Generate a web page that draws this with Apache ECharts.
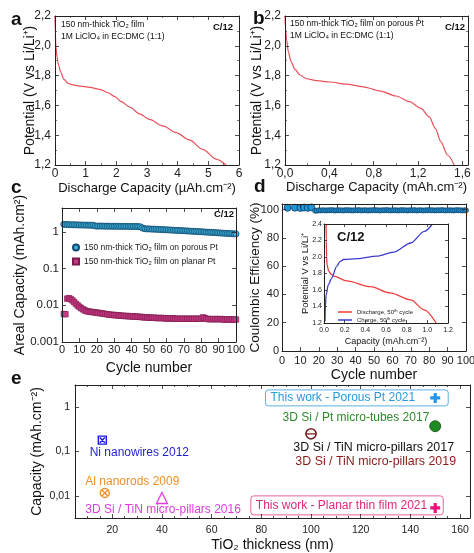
<!DOCTYPE html>
<html><head><meta charset="utf-8">
<script src="https://cdn.jsdelivr.net/npm/echarts@6/dist/echarts.min.js"></script>
<style>html,body{margin:0;padding:0;background:#fff}#c{width:474px;height:553px}</style>
</head><body><div id="c"></div>
<script>
const FONT = '"Liberation Sans", Arial, Helvetica, sans-serif';

// ---- Panel a: discharge curve, 150 nm TiO2 film (planar)
const aCapacity = [0,0.01,0.03,0.065,0.11,0.18,0.29,0.43,0.54,0.81,1.14,1.46,1.73,1.95,2.16,2.44,2.76,3.08,3.52,3.95,4.38,4.82,5.25,5.58];
const aPotential = [2.2,2.084,1.994,1.927,1.878,1.826,1.775,1.748,1.739,1.730,1.721,1.708,1.685,1.659,1.625,1.588,1.543,1.506,1.462,1.417,1.368,1.305,1.24,1.2];

// ---- Panel b: discharge curve, film on porous Pt
const bCapacity = [0,0.006,0.015,0.03,0.054,0.09,0.135,0.194,0.284,0.404,0.553,0.703,0.852,1.002,1.121,1.226,1.30,1.355,1.405,1.465,1.525];
const bPotential = [2.2,2.106,2.039,1.96,1.894,1.842,1.804,1.779,1.766,1.757,1.743,1.725,1.698,1.663,1.625,1.58,1.524,1.446,1.357,1.267,1.2];

// ---- Panel c: areal capacity vs cycle
const cycles = Array.from({length: 100}, (_, i) => i + 1);
const porousCapacity = [1.62,1.60,1.59,1.58,1.58,1.57,1.57,1.56,1.56,1.55,
1.55,1.54,1.54,1.54,1.53,1.53,1.52,1.52,1.46,1.44,
1.45,1.45,1.45,1.44,1.44,1.44,1.44,1.43,1.43,1.43,
1.43,1.43,1.42,1.42,1.42,1.42,1.42,1.42,1.41,1.41,
1.41,1.41,1.41,1.40,1.38,1.30,1.24,1.22,1.21,1.21,
1.20,1.195,1.19,1.185,1.18,1.17,1.165,1.16,1.15,1.145,
1.14,1.13,1.125,1.12,1.11,1.105,1.10,1.09,1.085,1.08,
1.07,1.065,1.06,1.05,1.045,1.04,1.03,1.025,1.02,1.01,
1.005,1.00,0.99,0.985,0.98,0.97,0.965,0.96,0.95,0.945,
0.94,0.93,0.925,0.92,0.91,0.905,0.90,0.895,0.89,0.885];
const planarCapacity = [0.0058,0.0057,0.0152,0.0157,0.0148,0.0136,0.0122,0.0110,0.0099,0.0091,
0.0084,0.0078,0.0073,0.0070,0.0068,0.0067,0.0066,0.0065,0.0064,0.0063,
0.0062,0.0061,0.0060,0.0059,0.0058,0.0057,0.0056,0.0055,0.0055,0.0054,
0.0054,0.0053,0.0053,0.0052,0.0052,0.0051,0.0051,0.0051,0.0050,0.0050,
0.0050,0.0049,0.0049,0.0049,0.0048,0.0048,0.0047,0.0047,0.0047,0.0046,
0.0046,0.0046,0.0046,0.0045,0.0045,0.0045,0.0045,0.0045,0.0044,0.0044,
0.0044,0.0044,0.0044,0.0044,0.0043,0.0043,0.0043,0.0043,0.0043,0.0043,
0.0043,0.0043,0.0043,0.0043,0.0043,0.0043,0.0043,0.0043,0.0043,0.0043,
0.0047,0.0045,0.0043,0.0042,0.0042,0.0042,0.0042,0.0042,0.0042,0.0042,
0.0042,0.0042,0.0041,0.0041,0.0041,0.0041,0.0041,0.0041,0.0041,0.0041];

// ---- Panel d: coulombic efficiency
const ceEarlyCycles = [3,7,10,12,14,16];
const ceEarly = [101.3,101.4,101.2,101.5,101.3,101.6];
const ceLateCycles = cycles.slice(17);
const ceLate = [99.2,99.3,99.5,99.4,99.6,99.5,99.4,99.6,99.5,99.7,99.5,99.4,99.6,99.5,99.6,99.4,99.5,99.7,99.5,99.6,
99.4,99.5,99.6,99.5,99.7,99.4,99.5,99.6,99.5,99.4,99.6,99.5,99.7,99.5,99.6,99.4,99.5,99.6,99.5,99.7,
99.5,99.4,99.6,99.5,99.6,99.4,99.5,99.7,99.5,99.6,99.4,99.5,99.6,99.5,99.7,99.4,99.5,99.6,99.5,99.4,
99.6,99.5,99.7,99.5,99.6,99.4,99.5,99.6,99.5,99.7,99.5,99.4,99.6,99.5,99.6,99.4,99.5,99.7,99.5,99.6,
99.4,99.5,99.6];

// ---- Panel d inset: 50th cycle
const dischargeCap = [0.02,0.022,0.025,0.03,0.045,0.07,0.1,0.22,0.45,0.64,0.84,0.97,1.085];
const dischargeV = [2.4,2.2,2.0,1.9,1.83,1.79,1.766,1.71,1.64,1.565,1.48,1.36,1.2];
const chargeCap = [0.01,0.013,0.02,0.042,0.075,0.123,0.156,0.19,0.32,0.51,0.675,0.84,0.97,1.05];
const chargeV = [1.22,1.4,1.54,1.665,1.745,1.887,1.947,1.97,1.98,2.01,2.06,2.17,2.31,2.4];

// ---- Panel e: literature comparison
const eLabels = ['This work - Porous Pt 2021','3D Si / Pt micro-tubes 2017','3D Si / TiN micro-pillars 2017','3D Si / TiN micro-pillars 2019','Ni nanowires 2012','Al nanorods 2009','3D Si / TiN micro-pillars 2016','This work - Planar thin film 2021'];
const eThickness = [150,150,100,100,16,17,40,150];
const eCapacity = [1.6,0.37,0.25,0.25,0.18,0.0117,0.009,0.0054];
const eTicks = [20,40,60,80,100,120,140,160];
const eMinorTicks = [10,15,25,30,35,45,50,55,65,70,75,85,90,95,105,110,115,125,130,135,145,150,155];

// ---------------- styling ----------------
const AX = '#222';
const comma = v => Number(v).toFixed(1).replace('.', ',');
const dot1 = v => Number(v).toFixed(1);

function mkAxis(o) {
  const ax = {
    type: o.type || 'value', gridIndex: o.g, position: o.pos,
    min: o.min, max: o.max, interval: o.interval,
    name: o.name || '', nameLocation: 'middle', nameGap: o.nameGap || 0, nameMoveOverlap: false,
    nameTextStyle: {fontFamily: FONT, fontSize: o.nameSize || 14, color: '#111'},
    axisLine: {show: o.line !== false, onZero: false, lineStyle: {color: AX, width: 1}},
    axisTick: {show: true, inside: true, length: o.tickLen || 4, lineStyle: {color: AX, width: 0.8}},
    minorTick: {show: !!o.minor, splitNumber: o.minor || 5, length: 2, lineStyle: {color: AX, width: 0.6}},
    splitLine: {show: false}, minorSplitLine: {show: false},
    axisLabel: {show: o.label !== false, fontFamily: FONT, fontSize: o.fontSize || 12, color: '#222',
      margin: o.margin == null ? 4 : o.margin, formatter: o.formatter,
      showMinLabel: o.hideMin ? false : null, showMaxLabel: o.hideMax ? false : null},
    z: 5
  };
  if (o.custom) { ax.axisTick.customValues = o.custom; ax.axisLabel.customValues = o.custom; }
  return ax;
}
const xAxes = [], yAxes = [];
function boxAxes(g, xo, yo) {
  xAxes.push(mkAxis(Object.assign({g, pos: 'bottom'}, xo)));
  xAxes.push(mkAxis(Object.assign({}, xo, {g, pos: 'top', label: false, name: ''})));
  yAxes.push(mkAxis(Object.assign({g, pos: 'left'}, yo)));
  yAxes.push(mkAxis(Object.assign({}, yo, {g, pos: 'right', label: false, name: ''})));
}
const potY = {min: 1.2, max: 2.2, interval: 0.2, formatter: comma, minor: 2, name: 'Potential (V vs Li/Li⁺)', nameSize: 14};
// a
boxAxes(0, {min: 0, max: 6, interval: 1, minor: 2, name: 'Discharge Capacity (µAh.cm⁻²)', nameGap: 17, nameSize: 13, margin: 3},
           Object.assign({}, potY, {nameGap: 18}));
// b
boxAxes(1, {min: 0, max: 1.65, interval: 0.4, minor: 2, formatter: comma, hideMax: true, name: 'Discharge Capacity (mAh.cm⁻²)', nameGap: 16, nameSize: 13, margin: 3},
           Object.assign({}, potY, {nameGap: 21}));
// c
boxAxes(2, {min: 0, max: 100, interval: 10, name: 'Cycle number', nameGap: 19, nameSize: 14, fontSize: 11, margin: 2},
           {type: 'log', min: 0.001, max: 4.5, hideMax: true, name: 'Areal Capacity (mAh.cm²)', nameGap: 35, nameSize: 14, fontSize: 11.5, margin: 3,
            formatter: v => String(+Number(v).toPrecision(3))});
// d
boxAxes(3, {min: 0, max: 100, interval: 10, name: 'Cycle number', nameGap: 17, nameSize: 14, fontSize: 11, margin: 4},
           {min: 0, max: 104, interval: 20, hideMax: true, name: 'Coulombic Efficiency (%)', nameGap: 20, nameSize: 13.5, fontSize: 11, margin: 3});
// inset
boxAxes(4, {min: 0, max: 1.2, interval: 0.2, formatter: dot1, name: 'Capacity (mAh.cm⁻²)', nameGap: 14, nameSize: 9, fontSize: 7, margin: 4, tickLen: 3},
           {min: 1.2, max: 2.4, interval: 0.2, formatter: dot1, name: 'Potential V vs Li/Li⁺', nameGap: 14, nameSize: 9.5, fontSize: 7, margin: 2, tickLen: 3});
// e
boxAxes(5, {min: 5, max: 164, custom: eTicks, name: 'TiO₂ thickness (nm)', nameGap: 20, nameSize: 14, fontSize: 10.5, margin: 7},
           {type: 'log', min: 0.0032, max: 3.12, hideMin: true, hideMax: true, name: 'Capacity (mAh.cm⁻²)', nameGap: 31, nameSize: 14, fontSize: 10.5, margin: 5,
            formatter: v => String(+Number(v).toPrecision(3)).replace('.', ',')});
// e minor ticks (bottom and top)
xAxes.push(mkAxis({g: 5, pos: 'bottom', min: 5, max: 164, custom: eMinorTicks, label: false, line: false, tickLen: 2}));
xAxes.push(mkAxis({g: 5, pos: 'top', min: 5, max: 164, custom: eMinorTicks, label: false, line: false, tickLen: 2}));

const grids = [
  {left: 55, top: 16, width: 184, height: 149},
  {left: 285, top: 16, width: 183, height: 149},
  {left: 62, top: 208, width: 174, height: 134},
  {left: 282, top: 204, width: 184, height: 147},
  {left: 324, top: 224, width: 124, height: 99, show: true, backgroundColor: '#fff', borderWidth: 0},
  {left: 75, top: 385, width: 395, height: 133}
].map(g => Object.assign({containLabel: false, outerBoundsMode: 'none'}, g));

const zip = (xs, ys) => xs.map((x, i) => [x, ys[i]]);
const RED = '#e9505a';

const SYM = {
  plus: 'path://M3.4,0H6.6V3.4H10V6.6H6.6V10H3.4V6.6H0V3.4H3.4Z',
  squareX: 'path://M0,0H10V10H0Z M1.8,1.8L8.2,8.2 M8.2,1.8L1.8,8.2',
  circleX: 'path://M10,5A5,5,0,1,1,0,5A5,5,0,1,1,10,5Z M1.6,1.6L8.4,8.4 M8.4,1.6L1.6,8.4',
  circleLine: 'path://M10,5A5,5,0,1,1,0,5A5,5,0,1,1,10,5Z M0,5L10,5'
};
const eStyle = [
  {symbol: SYM.plus, size: 10, color: '#2196e8', border: '#2196e8', bw: 0,
   label: {position: [18, 5], align: 'right', verticalAlign: 'middle', color: '#2a9ad8', padding: [1, 33, 1, 5], borderColor: '#5ab0e6', borderWidth: 1, borderRadius: 3, fontSize: 12, lineHeight: 14}},
  {symbol: 'circle', size: 11, color: '#1f8a1f', border: '#0d4d0d', bw: 0.8,
   label: {position: [0, -2.5], align: 'right', verticalAlign: 'middle', color: '#2e8b2e', fontSize: 12}},
  {symbol: SYM.circleLine, size: 10, color: '#fff', border: '#7a1a1a', bw: 1.3,
   label: {position: [-12, 19], align: 'left', verticalAlign: 'middle', color: '#111', fontSize: 12.4}},
  {symbol: SYM.circleLine, size: 10, color: '#fff', border: '#7a1a1a', bw: 1.3,
   label: {position: [-10, 33], align: 'left', verticalAlign: 'middle', color: '#8b1a1a', fontSize: 12.4}},
  {symbol: SYM.squareX, size: 8, color: '#fff', border: '#1a1ad6', bw: 1.4,
   label: {position: [-8, 17], align: 'left', verticalAlign: 'middle', color: '#1e1ed8', fontSize: 12}},
  {symbol: SYM.circleX, size: 9, color: '#fff', border: '#f0902a', bw: 1.4,
   label: {position: [-14.3, -6.5], align: 'left', verticalAlign: 'middle', color: '#f0902a', fontSize: 12}},
  {symbol: 'triangle', size: 11, color: '#fff', border: '#e03ce0', bw: 1.3,
   label: {position: [-70.5, 17.5], align: 'left', verticalAlign: 'middle', color: '#e03ce0', fontSize: 12}},
  {symbol: SYM.plus, size: 10, color: '#e5177a', border: '#e5177a', bw: 0,
   label: {position: [13, 2.5], align: 'right', verticalAlign: 'middle', color: '#e0287a', padding: [1, 16, 4, 5], borderColor: '#e8609e', borderWidth: 1, borderRadius: 3, fontSize: 12, lineHeight: 14}}
];

const series = [
  {type: 'line', name: 'a', xAxisIndex: 0, yAxisIndex: 0, data: zip(aCapacity, aPotential), showSymbol: false, symbol: 'none',
   smooth: 0.3, smoothMonotone: 'x', lineStyle: {color: RED, width: 1.2}, silent: true},
  {type: 'line', name: 'b', xAxisIndex: 2, yAxisIndex: 2, data: zip(bCapacity, bPotential), showSymbol: false, symbol: 'none',
   smooth: 0.3, smoothMonotone: 'x', lineStyle: {color: RED, width: 1.2}, silent: true},
  {type: 'scatter', name: '150 nm-thick TiO₂ film on planar Pt', xAxisIndex: 4, yAxisIndex: 4, data: zip(cycles, planarCapacity),
   symbol: 'rect', symbolSize: 5.5, itemStyle: {color: '#c93a86', borderColor: '#7a1a4a', borderWidth: 0.6, opacity: 1}},
  {type: 'scatter', name: '150 nm-thick TiO₂ film on porous Pt', xAxisIndex: 4, yAxisIndex: 4, data: zip(cycles, porousCapacity),
   symbol: 'circle', symbolSize: 6, itemStyle: {color: '#3db3dd', borderColor: '#114a6e', borderWidth: 0.8, opacity: 1}},
  {type: 'scatter', name: 'ceEarly', xAxisIndex: 6, yAxisIndex: 6, data: zip(ceEarlyCycles, ceEarly),
   symbol: 'circle', symbolSize: 7, itemStyle: {color: '#2394d6', borderColor: '#0b3d66', borderWidth: 0.8, opacity: 1}},
  {type: 'scatter', name: 'ceLate', xAxisIndex: 6, yAxisIndex: 6, data: zip(ceLateCycles, ceLate),
   symbol: 'circle', symbolSize: 5, itemStyle: {color: '#2394d6', borderColor: '#0b3d66', borderWidth: 0.7, opacity: 1}},
  {type: 'line', name: 'Discharge, 50ᵗʰ cycle', xAxisIndex: 8, yAxisIndex: 8, data: zip(dischargeCap, dischargeV), showSymbol: false, symbol: 'none',
   smooth: 0.3, smoothMonotone: 'x', lineStyle: {color: '#f03c3c', width: 1.3}, itemStyle: {color: '#f03c3c'}},
  {type: 'line', name: 'Charge, 50ᵗʰ cycle', xAxisIndex: 8, yAxisIndex: 8, data: zip(chargeCap, chargeV), showSymbol: false, symbol: 'none',
   smooth: 0.3, smoothMonotone: 'x', lineStyle: {color: '#3c3cd0', width: 1.3}, itemStyle: {color: '#3c3cd0'}}
];
eLabels.forEach((name, i) => {
  const s = eStyle[i];
  series.push({type: 'scatter', name, xAxisIndex: 10, yAxisIndex: 10, data: [[eThickness[i], eCapacity[i]]],
    symbol: s.symbol, symbolSize: s.size, z: 4,
    itemStyle: {color: s.color, borderColor: s.border, borderWidth: s.bw, opacity: 1},
    label: Object.assign({show: true, formatter: name, fontFamily: FONT}, s.label)});
});

function txt(x, y, text, size, o = {}) {
  return {type: 'text', x, y, z: 100, silent: true,
    style: {text, fill: o.color || '#111', font: (o.bold ? 'bold ' : '') + size + 'px ' + FONT,
      align: o.align || 'left', verticalAlign: 'middle', textAlign: o.align || 'left', textVerticalAlign: 'middle'}};
}

const chart = echarts.init(document.getElementById('c'), null, {renderer: 'canvas'});
chart.setOption({
  animation: false,
  backgroundColor: '#fff',
  textStyle: {fontFamily: FONT},
  grid: grids,
  xAxis: xAxes,
  yAxis: yAxes,
  legend: [
    {data: ['150 nm-thick TiO₂ film on porous Pt', '150 nm-thick TiO₂ film on planar Pt'], orient: 'vertical', left: 72, top: 243,
     itemWidth: 6, itemHeight: 6, itemGap: 5, itemTextGap: 12, selectedMode: false, padding: 0,
     textStyle: {fontFamily: FONT, fontSize: 8.5, color: '#222', lineHeight: 9}},
    {data: ['Discharge, 50ᵗʰ cycle', 'Charge, 50ᵗʰ cycle'], orient: 'vertical', left: 338, top: 308,
     icon: 'rect', itemWidth: 14, itemHeight: 1.5, itemGap: 0, itemTextGap: 2, selectedMode: false, padding: 0,
     textStyle: {fontFamily: FONT, fontSize: 6, color: '#222', lineHeight: 8}}
  ],
  series,
  graphic: [
    txt(11, 20, 'a', 19, {bold: true}),
    txt(61, 25, '150 nm-thick TiO₂ film', 8.5),
    txt(61, 37, '1M LiClO₄ in EC:DMC (1:1)', 8.5),
    txt(233, 27, 'C/12', 9.5, {bold: true, align: 'right'}),
    txt(253, 19, 'b', 19, {bold: true}),
    txt(290, 24, '150 nm-thick TiO₂ film on porous Pt', 8.5),
    txt(290, 36, '1M LiClO₄ in EC:DMC (1:1)', 8.5),
    txt(465, 27, 'C/12', 9.5, {bold: true, align: 'right'}),
    txt(11, 188, 'c', 19, {bold: true}),
    txt(254, 187, 'd', 19, {bold: true}),
    txt(11, 379, 'e', 19, {bold: true}),
    txt(234, 214, 'C/12', 9.5, {bold: true, align: 'right'}),
    txt(337, 237, 'C/12', 13, {bold: true})
  ]
});
</script></body></html>
